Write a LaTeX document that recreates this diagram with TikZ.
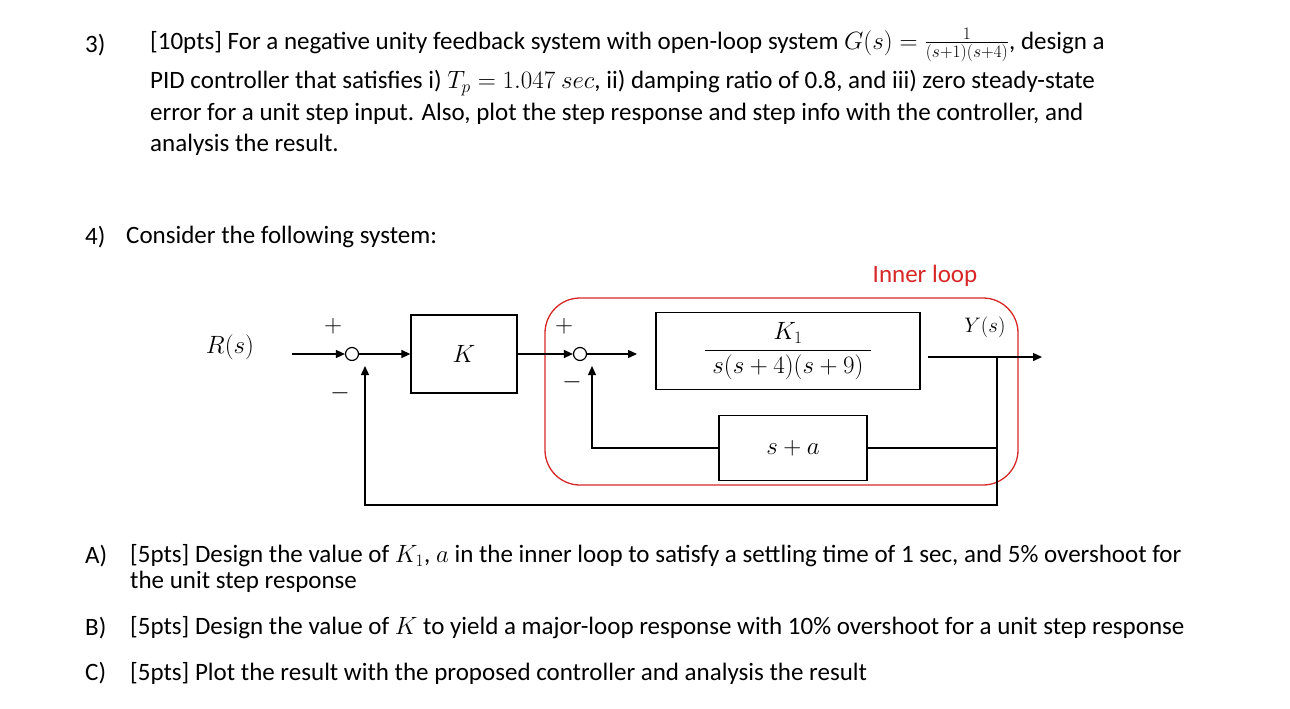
\RequirePackage{fix-cm}
\documentclass[tikz,border=0pt]{standalone}
\usepackage{amsmath}
\usepackage{fontspec}
\setmainfont{Carlito}
\usetikzlibrary{arrows.meta}
\definecolor{loopred}{RGB}{215,40,40}
\tikzset{
  txt/.style={anchor=west, inner sep=0pt, font=\fontsize{25}{29}\selectfont},
  lbl/.style={inner sep=0pt, font=\fontsize{25}{29}\selectfont},
  blk/.style={draw, line width=1.3pt, inner sep=0pt},
  sum/.style={draw, circle, line width=1.2pt, minimum size=13pt, inner sep=0pt},
  sig/.style={line width=1.4pt, -{Triangle[length=9pt,width=8pt]}},
  wire/.style={line width=1.4pt}
}
\begin{document}
\begin{tikzpicture}[x=1pt,y=-1pt]
\useasboundingbox[fill=white] (0,0) rectangle (1290,709);

% question 3
\node[txt] (n3) at (85,45) {3)};
\node[txt] (q3a) at (150,45) {[10pts] For a negative unity feedback system with open-loop system $G(s)=\frac{1}{(s+1)(s+4)}$, design a};
\node[txt] (q3b) at (150,83) {PID controller that satisfies i) $T_p=1.047\ sec$, ii) damping ratio of 0.8, and iii) zero steady-state};
\node[txt] (q3c) at (150,114) {error for a unit step input. Also, plot the step response and step info with the controller, and};
\node[txt] (q3d) at (150,145) {analysis the result.};

% question 4
\node[txt] (n4) at (85,237) {4)};
\node[txt] (q4) at (126,237) {Consider the following system:};

% inner loop frame
\draw[loopred, line width=1.3pt, rounded corners=35pt] (545,298) rectangle (1018,485);
\node[lbl, text=loopred] (inner) at (925,276) {Inner loop};

% blocks
\node[lbl] (R) at (230,347) {$R(s)$};
\coordinate (rin) at (292,354);
\node[sum] (s1) at (352,354) {};
\node[blk, minimum width=106pt, minimum height=78pt, lbl] (K) at (464,354) {$K$};
\node[sum] (s2) at (580,354) {};
\node[blk, minimum width=264pt, minimum height=77pt] (G) at (788,351) {};
\node[lbl] (Gt) at (788,351) {$\dfrac{\;K_1\;}{\;s(s+4)(s+9)\;}$};
\node[blk, minimum width=148pt, minimum height=65pt, lbl] (H) at (793,448) {$s+a$};
\node[lbl, font=\fontsize{21}{24}\selectfont] (Y) at (985,327) {$Y(s)$};
\coordinate (yout) at (1042,357);
\coordinate (br) at (997,357);

% signs
\node[lbl] (p1) at (333,326) {$+$};
\node[lbl] (m1) at (340,393) {$-$};
\node[lbl] (p2) at (564,326) {$+$};
\node[lbl] (m2) at (572,382) {$-$};

% forward path
\draw[sig] (rin) -- (s1);
\draw[sig] (s1) -- (K);
\draw[sig] (K) -- (s2);
\draw[sig] (s2) -- (637,354);
\draw[sig] (928,357) -- (yout);

% inner feedback
\draw[wire] (br) -- (997,448) -- (H.east);
\draw[sig] (H.west) -- (592,448) -- (592,366);

% outer feedback
\draw[sig] (997,448) -- (997,505) -- (365,505) -- (365,366);

% part A-C
\node[txt] (na) at (85,556) {A)};
\node[txt] (qa) at (130,556) {[5pts] Design the value of $K_1$, $a$ in the inner loop to satisfy a settling time of 1 sec, and 5\% overshoot for};
\node[txt] (qa2) at (130,582) {the unit step response};
\node[txt] (nb) at (85,628) {B)};
\node[txt] (qb) at (130,628) {[5pts] Design the value of $K$ to yield a major-loop response with 10\% overshoot for a unit step response};
\node[txt] (nc) at (85,673) {C)};
\node[txt] (qc) at (130,673) {[5pts] Plot the result with the proposed controller and analysis the result};
\end{tikzpicture}
\end{document}
